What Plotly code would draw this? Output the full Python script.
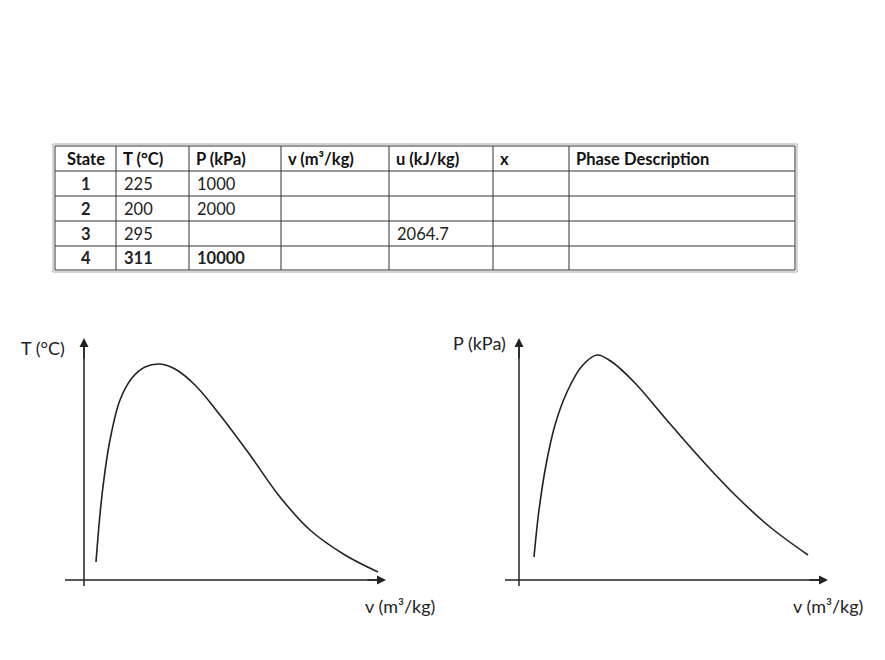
import plotly.graph_objects as go

intro_lines = ["Complete this table for WATER with the provided information. Please justify your answers and draw",
               "the points on the T-v and P-v diagrams provided below.  Access steam tables and handy information",
               "from Canvas."]
headers = ["State", "T (°C)", "P (kPa)", "v (m³/kg)", "u (kJ/kg)", "x", "Phase Description"]
rows = [["1", "225", "1000", "", "", "", ""],
        ["2", "200", "2000", "", "", "", ""],
        ["3", "295", "", "", "2064.7", "", ""],
        ["4", "311", "10000", "", "", "", ""]]
col_edges = [55, 116, 189, 281, 389, 493, 569, 795]
row_edges = [146, 171, 196, 221, 246, 270]

tv_dome_v = [96, 102, 110, 120, 132, 145, 160, 175, 195, 220, 250, 280, 310, 345, 378]
tv_dome_T = [562, 495, 440, 400, 378, 367, 364, 369, 385, 415, 455, 497, 530, 555, 572]
pv_dome_v = [534, 539, 546, 555, 567, 582, 597, 612, 635, 665, 700, 735, 770, 808]
pv_dome_P = [557, 510, 465, 425, 392, 366, 355, 362, 383, 418, 458, 495, 527, 555]

fig = go.Figure()
ink = "#222222"
fig.add_trace(go.Scatter(x=tv_dome_v, y=tv_dome_T, mode="lines", line=dict(color=ink, width=1.6, shape="spline"), hoverinfo="skip"))
fig.add_trace(go.Scatter(x=pv_dome_v, y=pv_dome_P, mode="lines", line=dict(color=ink, width=1.6, shape="spline"), hoverinfo="skip"))

shapes = []
for x in col_edges:
    shapes.append(dict(type="line", x0=x, x1=x, y0=row_edges[0], y1=row_edges[-1], line=dict(color="#333", width=1)))
for y in row_edges:
    shapes.append(dict(type="line", x0=col_edges[0], x1=col_edges[-1], y0=y, y1=y, line=dict(color="#333", width=1)))
shapes.append(dict(type="rect", x0=col_edges[0]-2, x1=col_edges[-1]+2, y0=row_edges[0]-2, y1=row_edges[-1]+2, line=dict(color="#aaa", width=1)))
for (x0, x1, y0, y1) in [(84, 84, 586, 345), (65, 380, 580, 580), (519, 519, 586, 345), (505, 822, 580, 580)]:
    shapes.append(dict(type="line", x0=x0, x1=x1, y0=y0, y1=y1, line=dict(color=ink, width=1.5)))

ann = []
for i, t in enumerate(intro_lines):
    ann.append(dict(x=2, y=50 + 30*i, text=t, xanchor="left", yanchor="middle", showarrow=False,
                    font=dict(family="Lato", size=18.5, color="#2d3b45")))
for j, h in enumerate(headers):
    ann.append(dict(x=(col_edges[j]+col_edges[j+1])/2 if j == 0 else col_edges[j]+5, y=158.5, text="<b>"+h+"</b>",
                    xanchor="center" if j == 0 else "left", yanchor="middle", showarrow=False,
                    font=dict(family="Lato", size=16.5, color="#111")))
for r, row in enumerate(rows):
    yc = (row_edges[r+1]+row_edges[r+2])/2
    for j, v in enumerate(row):
        if not v:
            continue
        bold = (j == 0) or (r == 3)
        ann.append(dict(x=(col_edges[j]+col_edges[j+1])/2 if j == 0 else col_edges[j]+6, y=yc,
                        text=("<b>"+v+"</b>") if bold else v,
                        xanchor="center" if j == 0 else "left", yanchor="middle", showarrow=False,
                        font=dict(family="Lato", size=16.5, color="#222")))
for (x, y, ax, ay) in [(84, 338, 84, 360), (386, 580, 366, 580), (519, 338, 519, 360), (828, 580, 808, 580)]:
    ann.append(dict(x=x, y=y, ax=ax, ay=ay, xref="x", yref="y", axref="x", ayref="y", text="", showarrow=True,
                    arrowhead=2, arrowsize=1.2, arrowwidth=1.5, arrowcolor=ink))
for (x, y, t, anc) in [(67, 348, "T (°C)", "right"), (508, 343, "P (kPa)", "right"),
                       (400, 606, "v (m³/kg)", "center"), (828, 606, "v (m³/kg)", "center")]:
    ann.append(dict(x=x, y=y, text=t, xanchor=anc, yanchor="middle", showarrow=False,
                    font=dict(family="Lato", size=18, color="#222")))

fig.update_layout(width=885, height=660, margin=dict(l=0, r=0, t=0, b=0), showlegend=False,
                  plot_bgcolor="white", paper_bgcolor="white", shapes=shapes, annotations=ann,
                  xaxis=dict(range=[8, 893], visible=False, fixedrange=True),
                  yaxis=dict(range=[668, 8], visible=False, fixedrange=True))
fig.write_html("out.html")
